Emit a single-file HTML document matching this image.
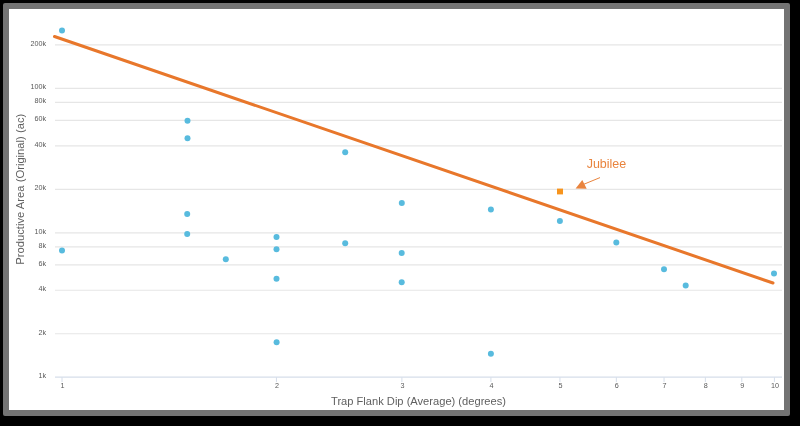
<!DOCTYPE html>
<html><head><meta charset="utf-8"><style>
html,body{margin:0;padding:0;width:800px;height:426px;background:#000;overflow:hidden}
#frame{position:absolute;left:3px;top:3px;width:787px;height:413px;background:#737373;border-radius:2px}
#inner{position:absolute;left:9px;top:9px;width:775px;height:401px;background:#fff}
svg{position:absolute;left:0;top:0}
#wrap{position:absolute;left:0;top:0;width:800px;height:426px;filter:blur(0.35px)}
text{font-family:"Liberation Sans",sans-serif}
.al{font-size:7.2px;fill:#595959}
.tt{font-size:10px;fill:#606060}
.jub{font-size:12px;fill:#e9843e}
</style></head><body>
<div id="wrap"><div id="frame"></div><div id="inner"></div>
<svg width="800" height="426" viewBox="0 0 800 426">
<line x1="55" y1="333.73" x2="782" y2="333.73" stroke="#e6e6e6" stroke-width="1.2"/>
<line x1="55" y1="290.26" x2="782" y2="290.26" stroke="#e6e6e6" stroke-width="1.2"/>
<line x1="55" y1="264.83" x2="782" y2="264.83" stroke="#e6e6e6" stroke-width="1.2"/>
<line x1="55" y1="246.79" x2="782" y2="246.79" stroke="#e6e6e6" stroke-width="1.2"/>
<line x1="55" y1="232.80" x2="782" y2="232.80" stroke="#e6e6e6" stroke-width="1.2"/>
<line x1="55" y1="189.33" x2="782" y2="189.33" stroke="#e6e6e6" stroke-width="1.2"/>
<line x1="55" y1="145.86" x2="782" y2="145.86" stroke="#e6e6e6" stroke-width="1.2"/>
<line x1="55" y1="120.43" x2="782" y2="120.43" stroke="#e6e6e6" stroke-width="1.2"/>
<line x1="55" y1="102.39" x2="782" y2="102.39" stroke="#e6e6e6" stroke-width="1.2"/>
<line x1="55" y1="88.40" x2="782" y2="88.40" stroke="#e6e6e6" stroke-width="1.2"/>
<line x1="55" y1="44.93" x2="782" y2="44.93" stroke="#e6e6e6" stroke-width="1.2"/>
<line x1="55" y1="377.20" x2="782" y2="377.20" stroke="#d6deea" stroke-width="1.2"/>
<line x1="62.00" y1="377.20" x2="62.00" y2="382" stroke="#d6deea" stroke-width="1"/>
<text x="62.50" y="388" text-anchor="middle" class="al">1</text>
<line x1="276.45" y1="377.20" x2="276.45" y2="382" stroke="#d6deea" stroke-width="1"/>
<text x="276.95" y="388" text-anchor="middle" class="al">2</text>
<line x1="401.90" y1="377.20" x2="401.90" y2="382" stroke="#d6deea" stroke-width="1"/>
<text x="402.40" y="388" text-anchor="middle" class="al">3</text>
<line x1="490.91" y1="377.20" x2="490.91" y2="382" stroke="#d6deea" stroke-width="1"/>
<text x="491.41" y="388" text-anchor="middle" class="al">4</text>
<line x1="559.95" y1="377.20" x2="559.95" y2="382" stroke="#d6deea" stroke-width="1"/>
<text x="560.45" y="388" text-anchor="middle" class="al">5</text>
<line x1="616.35" y1="377.20" x2="616.35" y2="382" stroke="#d6deea" stroke-width="1"/>
<text x="616.85" y="388" text-anchor="middle" class="al">6</text>
<line x1="664.05" y1="377.20" x2="664.05" y2="382" stroke="#d6deea" stroke-width="1"/>
<text x="664.55" y="388" text-anchor="middle" class="al">7</text>
<line x1="705.36" y1="377.20" x2="705.36" y2="382" stroke="#d6deea" stroke-width="1"/>
<text x="705.86" y="388" text-anchor="middle" class="al">8</text>
<line x1="741.80" y1="377.20" x2="741.80" y2="382" stroke="#d6deea" stroke-width="1"/>
<text x="742.30" y="388" text-anchor="middle" class="al">9</text>
<line x1="774.40" y1="377.20" x2="774.40" y2="382" stroke="#d6deea" stroke-width="1"/>
<text x="774.90" y="388" text-anchor="middle" class="al">10</text>
<text x="46.1" y="378.20" text-anchor="end" class="al">1k</text>
<text x="46.1" y="334.73" text-anchor="end" class="al">2k</text>
<text x="46.1" y="291.26" text-anchor="end" class="al">4k</text>
<text x="46.1" y="265.83" text-anchor="end" class="al">6k</text>
<text x="46.1" y="247.79" text-anchor="end" class="al">8k</text>
<text x="46.1" y="233.80" text-anchor="end" class="al">10k</text>
<text x="46.1" y="190.33" text-anchor="end" class="al">20k</text>
<text x="46.1" y="146.86" text-anchor="end" class="al">40k</text>
<text x="46.1" y="121.43" text-anchor="end" class="al">60k</text>
<text x="46.1" y="103.39" text-anchor="end" class="al">80k</text>
<text x="46.1" y="89.40" text-anchor="end" class="al">100k</text>
<text x="46.1" y="45.93" text-anchor="end" class="al">200k</text>
<line x1="54.5" y1="36.5" x2="773" y2="283" stroke="#e8772b" stroke-width="3" stroke-linecap="round"/>
<circle cx="62.0" cy="30.4" r="3" fill="#58bbde"/>
<circle cx="62.0" cy="250.5" r="3" fill="#58bbde"/>
<circle cx="187.5" cy="120.7" r="3" fill="#58bbde"/>
<circle cx="187.5" cy="138.3" r="3" fill="#58bbde"/>
<circle cx="187.2" cy="213.9" r="3" fill="#58bbde"/>
<circle cx="187.2" cy="234.0" r="3" fill="#58bbde"/>
<circle cx="225.8" cy="259.2" r="3" fill="#58bbde"/>
<circle cx="276.5" cy="236.9" r="3" fill="#58bbde"/>
<circle cx="276.5" cy="249.2" r="3" fill="#58bbde"/>
<circle cx="276.5" cy="278.8" r="3" fill="#58bbde"/>
<circle cx="276.6" cy="342.3" r="3" fill="#58bbde"/>
<circle cx="345.2" cy="152.3" r="3" fill="#58bbde"/>
<circle cx="345.2" cy="243.3" r="3" fill="#58bbde"/>
<circle cx="401.8" cy="203.0" r="3" fill="#58bbde"/>
<circle cx="401.7" cy="252.9" r="3" fill="#58bbde"/>
<circle cx="401.7" cy="282.3" r="3" fill="#58bbde"/>
<circle cx="490.9" cy="209.6" r="3" fill="#58bbde"/>
<circle cx="490.9" cy="353.8" r="3" fill="#58bbde"/>
<circle cx="559.9" cy="221.0" r="3" fill="#58bbde"/>
<circle cx="616.3" cy="242.6" r="3" fill="#58bbde"/>
<circle cx="664.0" cy="269.3" r="3" fill="#58bbde"/>
<circle cx="685.7" cy="285.4" r="3" fill="#58bbde"/>
<circle cx="774.0" cy="273.5" r="3" fill="#58bbde"/>
<rect x="557" y="188.6" width="6" height="5.8" fill="#f7941d"/>
<line x1="600" y1="177.6" x2="584" y2="184.2" stroke="#e9843e" stroke-width="1"/>
<polygon points="582.3,180 575.6,188.5 586.7,188.8" fill="#e9843e"/>
<text x="586.7" y="168" class="jub" textLength="39.5" lengthAdjust="spacingAndGlyphs">Jubilee</text>
<text x="418.5" y="405.2" text-anchor="middle" class="tt" textLength="175" lengthAdjust="spacingAndGlyphs">Trap Flank Dip (Average) (degrees)</text>
<text x="0" y="0" text-anchor="middle" class="tt" textLength="151" lengthAdjust="spacingAndGlyphs" transform="translate(23.8,189.2) rotate(-90)" style="font-size:11px">Productive Area (Original) (ac)</text>
</svg></div>
</body></html>
